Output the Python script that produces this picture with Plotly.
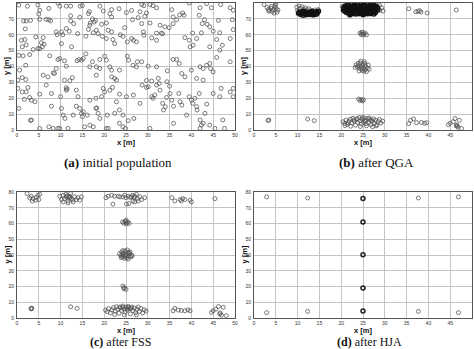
import plotly.graph_objects as go

# ---------------- data ----------------
# (a) initial population
init_pts = [
 (0.4,78.7),(2.4,78),(4.8,78.7),(5.2,75.4),(9.4,80),(9.8,78),(11.3,78),(12.3,78),(14.5,78),(15,78.4),
 (16.6,74.6),(16.4,73.3),(19,78),(19.8,75),(21.7,75.8),(23.4,76.4),(25.1,74),(28.6,79),(29.1,78.3),(29.7,73.7),
 (30.5,79),(31.2,78.3),(32,77),(35.5,75.8),(39.5,80),(42,77),(43.5,79.6),(44.6,77),(46.7,79),(48.9,77),
 (49.6,75.4),(5,73),(7.3,76.6),(5.2,69.7),(1.5,68.7),(2.1,68.7),(3.1,69),(6.7,69.7),(7.3,69.5),(7.7,68.7),
 (12.3,72),(12.3,68.7),(13,67),(17.3,70),(16.8,67.4),(17.7,68),(18,69),(21.3,73.3),(21.7,71.2),(26.3,75.4),
 (28.2,74.5),(26.5,69.5),(27.8,70.8),(29.3,71.6),(30.5,67.4),(35.8,71.2),(36.6,69.5),(37.3,72.5),(38,73.7),(38.3,72.3),
 (41.8,72.3),(42.5,67),(43,69.5),(43.6,66.6),(44.2,65),(46.2,69),(49.4,69.5),
 (1.9,63.7),(1,56.5),(1.8,57),(1.2,52.4),(2.1,53.6),(3.7,50.7),(5.2,51.3),(5.6,55),(5.8,52.4),(6,58.2),
 (6.2,54),(4.3,58.6),(4.8,51.3),(9,61.8),(9.2,60),(10.2,61.8),(10.2,54.4),(10.5,60),(11.3,63.9),(12,62.2),
 (12.5,52.4),(13.9,60.7),(14.4,71),(15.8,59),(16.4,63.4),(16.7,66),(17.5,61.2),(18.2,62.8),(18.6,60.7),(19.4,66.6),
 (19.6,59),(20.5,67.4),(20.5,57.6),(20.9,62.8),(21.7,61.8),(22,57),(23.7,60),(24.3,59),(24.7,64.5),(22.4,54.4),
 (25.3,55.5),(26.3,57.6),(26.7,56.5),(27.4,55.5),(28.6,67),(29,61.8),(29.1,59.7),(30.9,58),(32,56.5),(32,61),
 (32.8,66),(33.1,61),(33.4,60.6),(33.9,65),(34.9,64.5),(35.8,67),(38.5,58.2),(39.7,52.4),(40.3,61),(40.4,53.4),
 (41.2,57.6),(42.3,61.2),(44.2,52.4),(45,62.2),(45.8,57),(46.5,61.2),(47.1,53.4),(48.9,57.6),(49.6,63.2),(46.5,50.3),
 (39.5,56.5),
 (0.4,47),(1.4,46.7),(2,40.8),(2.9,47.5),(0.6,37.7),(0.2,31.4),(1.2,33),(2,31.8),(6,34.5),(7.1,33.5),
 (7.5,46.7),(8.3,36),(8.6,35.6),(9,38.7),(9.4,44.4),(9.8,45),(10.9,43.6),(11.3,40.2),(10.9,31.4),(12.1,31),
 (12.7,33),(13.8,43.6),(14.2,44.4),(14.8,44),(15.2,45),(15.8,48),(16.7,39.8),(17.3,43),(18.2,39.8),(19,38.7),
 (18.2,34.5),(19,44.4),(20.1,46.5),(20.5,44),(21.3,39.8),(21.7,37.7),(21.7,33.5),(22.4,32.5),(22.8,31.4),(23.5,37.7),
 (25.3,46.5),(25.6,44),(26.6,40.8),(27.4,39.8),(27.6,43),(28.6,43),(30.1,40.2),(32,39.8),(34.5,37.3),(34.4,30.4),
 (35.8,44.4),(36.6,44.4),(37.2,41.9),(37.8,35.6),(38.5,33.5),(40,37.7),(41.2,32.5),(42,39.8),(42.7,38.7),(43.5,40.8),
 (44.2,41.9),(45,36.6),(45.8,45.7),(48.9,43),(42.7,31.4),(44.4,38.7),(29.7,31.2),(30.9,30.8),(32.4,32.5),
 (0.2,26.2),(1.2,24),(2.1,24),(2.5,26.8),(1.7,19.3),(2.9,20.5),(3.3,18.8),(4.1,17.8),(0.4,13.6),(5.2,22.6),
 (3.3,6.3),(3.1,6.0),(5.2,1),(7.3,2),(8.3,1),(9.4,1),(9.8,1),(7.9,15),(6.7,28.3),(7.9,23),(10,21),
 (10.2,13.6),(10.6,9.4),(11,7.3),(11.3,26.6),(11.3,25.1),(11.5,25.8),(11.7,1),(12.9,9.4),(13.6,25.1),(14,21),(13.6,15),
 (14.4,13.6),(14.8,10.5),(15.2,11.5),(15,8.4),(15.5,2),(16.1,9.4),(16.7,3),(16.7,18.8),(17.5,2),(18.1,20),
 (18.1,13.6),(18.3,13.9),(18.6,10.5),(19,7.3),(19.4,21),(19.8,26.2),(20.1,24),(20.5,1),(20.9,1),(20.7,9.4),(21.3,25.1),
 (21.9,26.8),(22.4,10.5),(22.8,17.8),(23.5,22.6),(23.5,12.6),(24.3,9.4),(23.5,4.2),(24.3,2),(24.9,1),(25.5,5.9),
 (25.1,21),(26.7,22),(26.8,7.3),(28.2,16.8),(28.7,28.3),(29.7,26.8),(30.1,27.2),(30.5,1),(30.9,21),(31.2,20),
 (31.6,22),(32,28.3),(32.6,29.3),(32.8,25.1),(33.4,16.8),(33.6,12.6),(34,14.7),(34.3,20.5),(35,27.6),(35.1,23),
 (35.5,18.8),(35.9,15),(35.9,4.2),(37.1,23),(37.4,17.8),(37.8,15.7),(38.9,9.4),(39.5,21),(40,18.8),(40.3,16.8),
 (40.8,20),(41.2,14.7),(41.3,12.6),(41.8,23),(42,6.3),(42.3,3.1),(42.7,4.2),(43.1,10.5),(43.5,16.3),(44.2,3.1),
 (45,23),(45.4,1),(46.5,21),(46.8,26.2),(47.2,6.3),(47.6,1),(48.9,24),(49.6,26.2),(49.6,21),(42,1),
]

# (b) after QGA  -- scattered members
qga_pts = [
 (2.3,79.0),(3.0,77.2),(3.3,76.0),(3.6,75.3),(3.9,76.8),(4.2,74.6),(4.5,75.8),(4.8,77.5),(4.9,78.6),(5.0,79.6),
 (5.1,76.4),(5.3,74.2),(4.6,73.6),(3.4,74.8),(5.5,75.6),(4.0,77.9),
 (9.8,77.4),(10.3,78.1),(10.6,76.6),(11.0,77.6),(11.4,76.2),(11.8,77.0),(12.2,75.8),(12.6,76.4),(10.0,75.2),
 (11.6,75.3),(13.2,75.4),(14.0,75.6),(14.7,75.9),
 (28.9,75.4),(29.3,77.0),(20.2,77.8),(28.8,78.4),(29.6,75.0),(21.0,78.9),(27.9,79.2),
 (35.5,76.4),(37.1,74.5),(37.6,74.8),(38.3,74.3),(39.7,73.7),(38.0,75.2),(46.4,75.6),
 (24.3,61.0),(24.6,60.2),(24.9,61.3),(25.2,60.5),(25.5,61.1),(25.8,60.0),(25.0,59.8),(24.7,61.6),
 (23.4,41.0),(23.7,39.8),(24.0,40.6),(24.2,38.8),(24.4,42.2),(24.6,40.0),(24.8,37.6),(25.0,41.4),(25.1,39.2),(25.3,43.0),
 (25.5,38.0),(25.6,40.4),(25.8,36.8),(26.0,39.0),(26.2,41.0),(24.1,37.2),(23.9,42.0),(25.4,42.0),(26.4,38.2),(24.7,38.6),
 (25.2,37.0),(23.2,39.4),(24.5,43.4),
 (24.0,19.5),(24.3,18.6),(24.6,19.2),(24.9,18.3),(25.1,19.0),
 (3.2,6.0),(3.4,6.3),(12.3,6.9),(13.8,5.9),
 (20.4,5.2),(20.8,4.2),(21.1,6.2),(21.4,3.5),(21.8,5.4),(22.4,4.4),(23.3,3.0),(24.6,3.8),(25.8,2.6),
 (26.8,3.4),(27.6,4.2),(28.2,3.2),(28.5,5.4),(28.8,6.6),(29.1,4.4),(29.5,5.6),(22.2,2.4),(24.4,2.2),(27.2,2.0),
 (21.6,4.6),(28.0,2.6),(20.9,2.8),
 (22.1,6.8),(22.7,7.4),(23.0,5.6),(23.5,6.6),(23.8,4.8),(24.1,7.8),(24.3,5.8),(24.8,6.9),(25.1,5.0),(25.3,7.6),
 (25.6,6.0),(26.1,7.2),(26.3,4.6),(26.6,6.5),(27.1,5.6),(27.4,7.0),(27.9,6.2),(23.7,7.2),(25.7,4.0),(26.9,6.0),
 (24.9,7.9),(22.9,6.4),(25.4,5.6),(26.4,7.6),
 (35.5,4.0),(35.9,6.1),(36.6,7.0),(37.3,4.6),(38.4,4.8),(39.1,4.2),(39.6,4.6),
 (44.6,3.4),(45.0,4.2),(45.7,5.2),(46.1,7.2),(46.4,2.6),(46.8,1.7),(47.1,6.1),(47.6,1.0),(46.5,3.2),(46.6,2.4),
]
# (b) after QGA -- the tightly packed (black) members at the top
qga_dense = [
 (10.4,74.3),(10.8,73.5),(11.2,74.6),(11.5,73.2),(11.9,74.0),(12.3,73.0),(12.7,74.3),(13.0,73.4),(13.4,74.6),(13.8,73.2),
 (14.1,74.2),(14.5,73.6),(14.8,74.8),(12.0,72.6),(12.9,72.8),(13.6,72.5),(14.3,72.9),(10.7,72.8),(10.2,73.6),(11.3,72.3),
 (12.5,73.8),(13.9,74.0),(10.9,74.0),(12.0,73.5),(13.3,73.9),(14.4,74.3),(11.7,74.4),
 (21.5,78.8),(22.3,78.9),(23.0,78.7),(23.8,79.0),(24.5,78.8),(25.3,78.6),(26.0,78.9),(26.8,78.7),(27.5,78.8),
 (20.9,78.0),(21.6,78.1),(22.2,77.9),(22.9,78.0),(23.5,78.1),(24.2,77.9),(24.8,78.0),(25.5,78.2),(26.1,77.9),(26.8,78.0),(27.4,78.1),(28.0,77.9),
 (20.6,77.2),(21.2,77.3),(21.8,77.1),(22.4,77.2),(23.0,77.3),(23.6,77.1),(24.2,77.2),(24.8,77.3),(25.4,77.1),(26.0,77.2),(26.6,77.3),(27.2,77.1),(27.8,77.2),(28.3,77.3),
 (20.7,76.4),(21.3,76.5),(21.9,76.3),(22.5,76.4),(23.1,76.5),(23.7,76.3),(24.3,76.4),(24.9,76.5),(25.5,76.3),(26.1,76.4),(26.7,76.5),(27.3,76.3),(27.9,76.4),
 (20.5,75.6),(21.1,75.7),(21.7,75.5),(22.3,75.6),(22.9,75.7),(23.5,75.5),(24.1,75.6),(24.7,75.7),(25.3,75.5),(25.9,75.6),(26.5,75.7),(27.1,75.5),(27.7,75.6),(28.4,75.7),
 (20.8,74.8),(21.4,74.9),(22.0,74.7),(22.6,74.8),(23.2,74.9),(23.8,74.7),(24.4,74.8),(25.0,74.9),(25.6,74.7),(26.2,74.8),(26.8,74.9),(27.4,74.7),(28.0,74.8),
 (21.2,74.0),(21.8,74.1),(22.4,73.9),(23.0,74.0),(23.6,74.1),(24.2,73.9),(24.8,74.0),(25.4,74.1),(26.0,73.9),(26.6,74.0),(27.2,74.1),(27.8,73.9),
 (21.9,73.2),(22.6,73.3),(23.3,73.1),(24.0,73.2),(24.7,73.3),(25.4,73.1),(26.1,73.2),(26.8,73.3),
 (22.0,72.5),(25.0,72.6),(27.5,73.0),
]

# (c) after FSS
fss_pts = [
 (2.3,79.0),(3.3,77.3),(3.7,75.8),(4.3,74.8),(4.8,77.9),(5.0,75.2),(4.4,76.6),(5.2,78.5),(3.5,74.3),(2.9,76.2),
 (9.8,77.3),(10.2,75.2),(10.6,77.9),(10.9,75.8),(11.3,76.9),(11.7,74.3),(12.1,77.3),(12.5,75.8),(12.9,73.7),(13.2,76.9),
 (13.6,75.2),(14.0,76.4),(14.4,74.8),(14.8,76.9),(11.2,78.5),(12.3,79.0),(10.6,73.7),(11.7,73.1),(11.5,77.6),(11.9,77.0),
 (12.0,76.2),(12.8,75.0),
 (20.4,76.4),(20.9,77.3),(21.7,77.9),(22.4,77.3),(22.0,72.3),(23.2,77.3),(24.3,76.9),(25.0,76.4),(25.5,77.3),(26.3,76.9),
 (27.0,77.3),(27.6,75.8),(28.2,76.9),(29.3,76.4),(25.1,72.3),(25.7,72.7),(26.6,74.3),(27.0,73.7),(27.8,74.3),(28.6,75.2),
 (23.6,76.9),(26.5,77.9),(27.4,78.5),(24.7,77.9),(25.9,76.6),(26.9,76.5),
 (35.5,76.4),(36.2,74.3),(37.4,75.2),(38.0,75.8),(38.5,75.2),(37.7,74.3),(39.7,74.8),(40.0,73.7),(45.4,75.8),
 (24.2,61.0),(24.5,60.2),(24.8,61.4),(25.1,60.6),(25.4,61.0),(25.7,60.1),(25.0,62.1),(25.1,59.7),
 (23.5,40.8),(23.8,39.6),(24.0,42.0),(24.2,38.6),(24.4,41.2),(24.6,39.4),(24.8,42.6),(25.0,40.4),(25.2,38.2),(25.4,41.6),
 (25.6,39.2),(25.8,40.8),(26.1,38.8),(26.3,40.0),(24.1,40.2),(24.7,37.8),(25.3,43.2),(25.9,42.0),(24.3,42.8),(25.5,37.4),
 (26.4,39.4),(23.9,38.4),(24.9,39.0),(25.7,41.4),
 (24.3,20.3),(24.6,19.3),(25.0,18.2),(24.5,18.6),
 (3.2,6.0),(3.4,6.2),(3.3,5.8),(12.3,7.1),(13.8,6.1),
 (20.3,5.0),(20.7,4.0),(21.0,6.0),(21.4,3.2),(21.8,5.2),(22.1,6.6),(22.5,4.4),(22.8,7.2),(23.1,5.6),(23.4,3.0),
 (23.7,6.4),(24.0,4.8),(24.3,7.6),(24.5,5.8),(24.8,3.6),(25.0,6.8),(25.3,5.0),(25.5,7.4),(25.8,6.0),(26.0,2.6),
 (26.3,7.0),(26.6,4.6),(26.9,6.4),(27.2,3.4),(27.5,5.6),(27.8,7.0),(28.1,4.2),(28.4,6.0),(28.8,3.2),(29.2,5.2),
 (29.6,4.4),(22.4,2.2),(24.6,2.0),(27.4,2.0),(24.2,6.8),(25.6,6.6),(25.2,5.8),(26.2,6.2),(23.6,7.0),
 (35.8,4.6),(36.2,6.1),(37.0,5.0),(37.7,4.8),(38.5,4.6),(39.2,5.2),(39.7,4.6),
 (44.6,3.5),(45.0,4.6),(45.6,5.6),(46.2,7.3),(46.5,2.6),(46.9,1.8),(47.3,6.8),(48.0,1.5),(46.6,3.2),
]

# (d) after HJA
hja_x = [2.9, 12.3, 25.0, 37.7, 46.9, 25.0, 25.0, 25.0, 25.0, 2.9, 12.3, 37.7, 46.9]
hja_y = [76.9, 76.2, 75.8, 76.2, 76.9, 61.0, 40.2, 19.0, 4.4, 3.4, 4.2, 4.2, 3.4]
hja_dark = [False, False, True, False, False, True, True, True, True, False, False, False, False]

captions = ["<b>(a)</b> initial population", "<b>(b)</b> after QGA",
            "<b>(c)</b> after FSS", "<b>(d)</b> after HJA"]
x_ticks = [0, 5, 10, 15, 20, 25, 30, 35, 40, 45, 50]
y_ticks = [0, 10, 20, 30, 40, 50, 60, 70, 80]

# ---------------- figure ----------------
W, H = 474, 349
def px_x(p): return p / W
def px_y(p): return 1 - p / H

boxes = [(17, 235, 3, 130), (254, 472, 3, 130), (17, 235, 192, 318), (254, 472, 192, 318)]
xlab_off = [12.5, 12.5, 12.0, 12.0]
cap_pos = [(118, 162), (376, 162), (120, 341.5), (369, 341.5)]

fig = go.Figure()
GRAY = "#505050"
mk = dict(symbol="circle-open", size=4, color=GRAY, line=dict(width=0.75, color=GRAY))
mk_dense = dict(symbol="circle-open", size=4, color="#111", line=dict(width=1.4, color="#111"))
mk_dark = dict(symbol="circle-open", size=4, color="#222", line=dict(width=1.5, color="#222"))

def unzip(pts):
    return [p[0] for p in pts], [p[1] for p in pts]

def add(xs, ys, marker, sfx):
    fig.add_trace(go.Scatter(x=xs, y=ys, mode="markers", marker=marker,
                             xaxis="x" + sfx, yaxis="y" + sfx, showlegend=False,
                             hoverinfo="skip"))

add(*unzip(init_pts), mk, "")
add(*unzip(qga_pts), mk, "2")
add(*unzip(qga_dense), mk_dense, "2")
add(*unzip(fss_pts), mk, "3")
lx = [x for x, d in zip(hja_x, hja_dark) if not d]
ly = [y for y, d in zip(hja_y, hja_dark) if not d]
dx = [x for x, d in zip(hja_x, hja_dark) if d]
dy = [y for y, d in zip(hja_y, hja_dark) if d]
add(lx, ly, mk, "4")
add(dx, dy, mk_dark, "4")

ax_common = dict(showgrid=True, gridcolor="#c4c4c4", gridwidth=1, zeroline=False,
                 showline=True, linecolor="#555", linewidth=1, mirror=True,
                 ticks="", tickfont=dict(size=5, color="#333", family="Liberation Sans"),
                 automargin=False)
layout = {}
annotations = []
lab_font = dict(size=7.5, color="#111", family="Liberation Sans")
for i, (l, r, t, b) in enumerate(boxes):
    sfx = "" if i == 0 else str(i + 1)
    layout["xaxis" + sfx] = dict(ax_common, domain=[px_x(l), px_x(r)], range=[0, 50],
                                 tickvals=x_ticks, anchor="y" + sfx, ticklabelstandoff=0)
    layout["yaxis" + sfx] = dict(ax_common, domain=[px_y(b), px_y(t)], range=[0, 80],
                                 tickvals=y_ticks, anchor="x" + sfx, ticklabelstandoff=1)
    annotations.append(dict(text="<b>x [m]</b>", x=px_x((l + r) / 2), y=px_y(b + xlab_off[i]),
                            xref="paper", yref="paper", showarrow=False,
                            xanchor="center", yanchor="middle", font=lab_font))
    annotations.append(dict(text="<b>y [m]</b>", x=px_x(l - 10.5), y=px_y((t + b) / 2),
                            xref="paper", yref="paper", showarrow=False, textangle=-90,
                            xanchor="center", yanchor="middle", font=lab_font))

for i, (txt, (cx, cy)) in enumerate(zip(captions, cap_pos)):
    annotations.append(dict(text=txt, x=px_x(cx), y=px_y(cy), xref="paper", yref="paper",
                            showarrow=False, xanchor="center", yanchor="middle",
                            font=dict(size=13 if i < 2 else 12, color="#111",
                                      family="Liberation Serif")))

fig.update_layout(width=W, height=H, margin=dict(l=0, r=0, t=0, b=0),
                  paper_bgcolor="white", plot_bgcolor="white",
                  annotations=annotations, **layout)
fig.write_html("out.html")
